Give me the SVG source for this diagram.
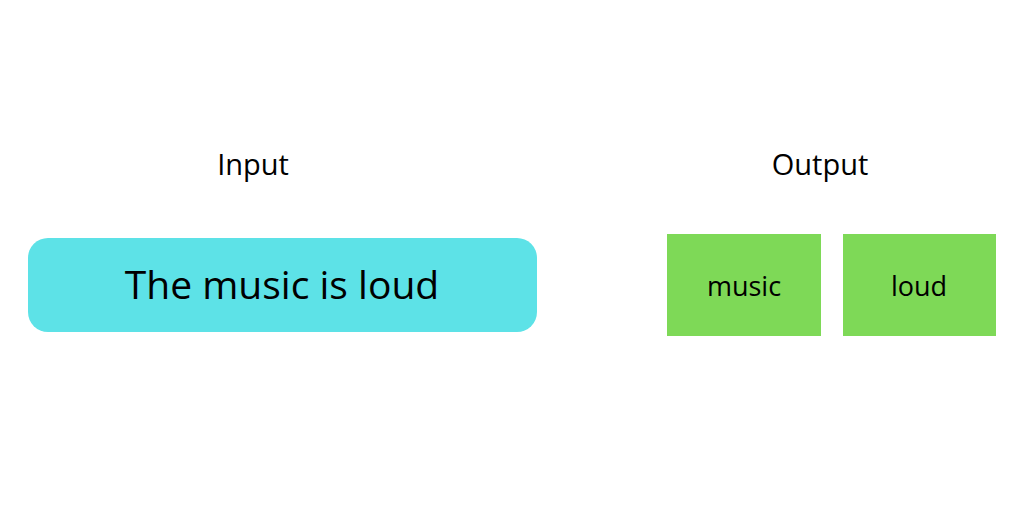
<svg xmlns="http://www.w3.org/2000/svg" width="1024" height="512" viewBox="0 0 1024 512">
<style>
text{font-family:"Open Sans","Noto Sans",sans-serif;fill:#000;text-anchor:middle}
.h{font-size:29px}
.w{font-size:27px}
</style>
<rect width="1024" height="512" fill="#fff"/>
<g id="input-label"><text class="h" x="253" y="175">Input</text></g>
<g id="output-label"><text class="h" x="820" y="175">Output</text></g>
<g id="input"><rect x="28" y="238" width="509" height="94" rx="20" fill="#5de2e7"/><text x="282" y="299" font-size="39">The music is loud</text></g>
<g id="out-music"><rect x="667" y="234" width="154" height="102" fill="#7ed957"/><text class="w" x="744" y="296">music</text></g>
<g id="out-loud"><rect x="843" y="234" width="153" height="102" fill="#7ed957"/><text class="w" x="919" y="296">loud</text></g>
<g id="connectors"/>
</svg>
